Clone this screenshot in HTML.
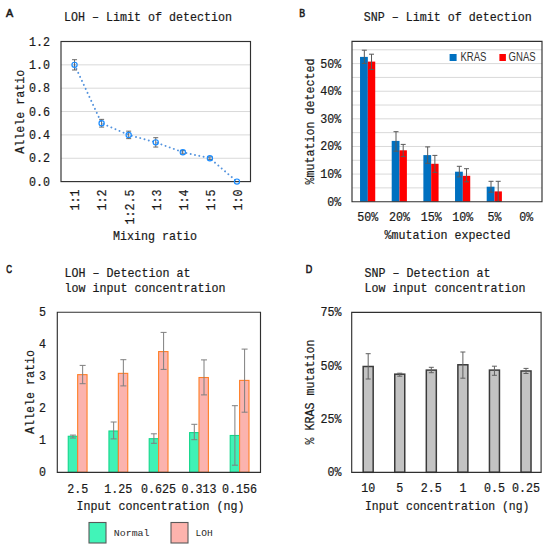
<!DOCTYPE html>
<html><head><meta charset="utf-8"><style>
html,body{margin:0;padding:0;background:#fff;width:550px;height:550px;overflow:hidden}
svg{display:block}
</style></head><body>
<svg width="550" height="550" viewBox="0 0 550 550">
<rect width="550" height="550" fill="#fff"/>
<text x="5.9" y="16.91" font-family="'Liberation Sans', sans-serif" font-size="11.2" fill="#1a1a1a" stroke="#1a1a1a" stroke-width="0.6" textLength="7.199999999999999" lengthAdjust="spacingAndGlyphs">A</text>
<text x="299.2" y="16.81" font-family="'Liberation Sans', sans-serif" font-size="11.2" fill="#1a1a1a" stroke="#1a1a1a" stroke-width="0.6" textLength="5.900000000000034" lengthAdjust="spacingAndGlyphs">B</text>
<text x="6.2" y="273.31" font-family="'Liberation Sans', sans-serif" font-size="11.2" fill="#1a1a1a" stroke="#1a1a1a" stroke-width="0.6" textLength="5.8" lengthAdjust="spacingAndGlyphs">C</text>
<text x="305.7" y="273.21" font-family="'Liberation Sans', sans-serif" font-size="11.2" fill="#1a1a1a" stroke="#1a1a1a" stroke-width="0.6" textLength="6.5" lengthAdjust="spacingAndGlyphs">D</text>
<text x="64" y="20.5199" font-family="'Liberation Mono', monospace" font-size="12.2" fill="#1a1a1a" text-anchor="start" stroke="#1a1a1a" stroke-width="0.2" textLength="168.00" lengthAdjust="spacingAndGlyphs">LOH – Limit of detection</text>
<line x1="61" y1="158.25" x2="250.5" y2="158.25" stroke="#d9d9d9" stroke-width="1"/>
<line x1="61" y1="134.90" x2="250.5" y2="134.90" stroke="#d9d9d9" stroke-width="1"/>
<line x1="61" y1="111.55" x2="250.5" y2="111.55" stroke="#d9d9d9" stroke-width="1"/>
<line x1="61" y1="88.20" x2="250.5" y2="88.20" stroke="#d9d9d9" stroke-width="1"/>
<line x1="61" y1="64.85" x2="250.5" y2="64.85" stroke="#d9d9d9" stroke-width="1"/>
<rect x="61" y="41.5" width="189.5" height="140.1" fill="none" stroke="#303030" stroke-width="1.15"/>
<text x="50" y="185.6199" font-family="'Liberation Mono', monospace" font-size="12.2" fill="#1a1a1a" text-anchor="end" stroke="#1a1a1a" stroke-width="0.2" textLength="21.00" lengthAdjust="spacingAndGlyphs">0.0</text>
<text x="50" y="162.2699" font-family="'Liberation Mono', monospace" font-size="12.2" fill="#1a1a1a" text-anchor="end" stroke="#1a1a1a" stroke-width="0.2" textLength="21.00" lengthAdjust="spacingAndGlyphs">0.2</text>
<text x="50" y="138.91989999999998" font-family="'Liberation Mono', monospace" font-size="12.2" fill="#1a1a1a" text-anchor="end" stroke="#1a1a1a" stroke-width="0.2" textLength="21.00" lengthAdjust="spacingAndGlyphs">0.4</text>
<text x="50" y="115.56989999999999" font-family="'Liberation Mono', monospace" font-size="12.2" fill="#1a1a1a" text-anchor="end" stroke="#1a1a1a" stroke-width="0.2" textLength="21.00" lengthAdjust="spacingAndGlyphs">0.6</text>
<text x="50" y="92.2199" font-family="'Liberation Mono', monospace" font-size="12.2" fill="#1a1a1a" text-anchor="end" stroke="#1a1a1a" stroke-width="0.2" textLength="21.00" lengthAdjust="spacingAndGlyphs">0.8</text>
<text x="50" y="68.8699" font-family="'Liberation Mono', monospace" font-size="12.2" fill="#1a1a1a" text-anchor="end" stroke="#1a1a1a" stroke-width="0.2" textLength="21.00" lengthAdjust="spacingAndGlyphs">1.0</text>
<text x="50" y="45.51989999999997" font-family="'Liberation Mono', monospace" font-size="12.2" fill="#1a1a1a" text-anchor="end" stroke="#1a1a1a" stroke-width="0.2" textLength="21.00" lengthAdjust="spacingAndGlyphs">1.2</text>
<text x="0" y="0" font-family="'Liberation Mono', monospace" font-size="12.2" fill="#1a1a1a" stroke="#1a1a1a" stroke-width="0.2" text-anchor="middle" textLength="84.0" lengthAdjust="spacingAndGlyphs" transform="translate(24.02 111.7) rotate(-90)">Allele ratio</text>
<text x="0" y="0" font-family="'Liberation Mono', monospace" font-size="12.2" fill="#1a1a1a" stroke="#1a1a1a" stroke-width="0.2" text-anchor="end" textLength="21.0" lengthAdjust="spacingAndGlyphs" transform="translate(79.36 189.5) rotate(-90)">1:1</text>
<text x="0" y="0" font-family="'Liberation Mono', monospace" font-size="12.2" fill="#1a1a1a" stroke="#1a1a1a" stroke-width="0.2" text-anchor="end" textLength="21.0" lengthAdjust="spacingAndGlyphs" transform="translate(106.43 189.5) rotate(-90)">1:2</text>
<text x="0" y="0" font-family="'Liberation Mono', monospace" font-size="12.2" fill="#1a1a1a" stroke="#1a1a1a" stroke-width="0.2" text-anchor="end" textLength="35.0" lengthAdjust="spacingAndGlyphs" transform="translate(133.50 189.5) rotate(-90)">1:2.5</text>
<text x="0" y="0" font-family="'Liberation Mono', monospace" font-size="12.2" fill="#1a1a1a" stroke="#1a1a1a" stroke-width="0.2" text-anchor="end" textLength="21.0" lengthAdjust="spacingAndGlyphs" transform="translate(160.57 189.5) rotate(-90)">1:3</text>
<text x="0" y="0" font-family="'Liberation Mono', monospace" font-size="12.2" fill="#1a1a1a" stroke="#1a1a1a" stroke-width="0.2" text-anchor="end" textLength="21.0" lengthAdjust="spacingAndGlyphs" transform="translate(187.64 189.5) rotate(-90)">1:4</text>
<text x="0" y="0" font-family="'Liberation Mono', monospace" font-size="12.2" fill="#1a1a1a" stroke="#1a1a1a" stroke-width="0.2" text-anchor="end" textLength="21.0" lengthAdjust="spacingAndGlyphs" transform="translate(214.71 189.5) rotate(-90)">1:5</text>
<text x="0" y="0" font-family="'Liberation Mono', monospace" font-size="12.2" fill="#1a1a1a" stroke="#1a1a1a" stroke-width="0.2" text-anchor="end" textLength="21.0" lengthAdjust="spacingAndGlyphs" transform="translate(241.78 189.5) rotate(-90)">1:0</text>
<text x="113" y="239.6199" font-family="'Liberation Mono', monospace" font-size="12.2" fill="#1a1a1a" text-anchor="start" stroke="#1a1a1a" stroke-width="0.2" textLength="84.00" lengthAdjust="spacingAndGlyphs">Mixing ratio</text>
<polyline points="74.54,64.85 101.61,123.22 128.68,134.90 155.75,142.37 182.82,152.18 209.89,158.25 236.96,181.60" fill="none" stroke="#5594de" stroke-width="2.0" stroke-dasharray="0.01 4.4" stroke-linecap="round"/>
<path d="M74.54 59.70V70.00M72.04 59.70H77.04M72.04 70.00H77.04" stroke="#595959" stroke-width="0.9" fill="none"/>
<circle cx="74.54" cy="64.85" r="2.6" fill="none" stroke="#1a8cff" stroke-width="1.2"/>
<path d="M101.61 119.36V127.09M99.11 119.36H104.11M99.11 127.09H104.11" stroke="#595959" stroke-width="0.9" fill="none"/>
<circle cx="101.61" cy="123.22" r="2.6" fill="none" stroke="#1a8cff" stroke-width="1.2"/>
<path d="M128.68 131.16V138.64M126.18 131.16H131.18M126.18 138.64H131.18" stroke="#595959" stroke-width="0.9" fill="none"/>
<circle cx="128.68" cy="134.90" r="2.6" fill="none" stroke="#1a8cff" stroke-width="1.2"/>
<path d="M155.75 137.69V147.05M153.25 137.69H158.25M153.25 147.05H158.25" stroke="#595959" stroke-width="0.9" fill="none"/>
<circle cx="155.75" cy="142.37" r="2.6" fill="none" stroke="#1a8cff" stroke-width="1.2"/>
<path d="M182.82 150.42V153.93M180.32 150.42H185.32M180.32 153.93H185.32" stroke="#595959" stroke-width="0.9" fill="none"/>
<circle cx="182.82" cy="152.18" r="2.6" fill="none" stroke="#1a8cff" stroke-width="1.2"/>
<path d="M209.89 156.85V159.65M207.39 156.85H212.39M207.39 159.65H212.39" stroke="#595959" stroke-width="0.9" fill="none"/>
<circle cx="209.89" cy="158.25" r="2.6" fill="none" stroke="#1a8cff" stroke-width="1.2"/>
<circle cx="236.96" cy="181.60" r="2.6" fill="none" stroke="#1a8cff" stroke-width="1.2"/>
<text x="363.7" y="20.5199" font-family="'Liberation Mono', monospace" font-size="12.2" fill="#1a1a1a" text-anchor="start" stroke="#1a1a1a" stroke-width="0.2" textLength="168.00" lengthAdjust="spacingAndGlyphs">SNP – Limit of detection</text>
<line x1="352" y1="187.89" x2="542" y2="187.89" stroke="#d9d9d9" stroke-width="1"/>
<line x1="352" y1="174.08" x2="542" y2="174.08" stroke="#d9d9d9" stroke-width="1"/>
<line x1="352" y1="160.27" x2="542" y2="160.27" stroke="#d9d9d9" stroke-width="1"/>
<line x1="352" y1="146.46" x2="542" y2="146.46" stroke="#d9d9d9" stroke-width="1"/>
<line x1="352" y1="132.65" x2="542" y2="132.65" stroke="#d9d9d9" stroke-width="1"/>
<line x1="352" y1="118.84" x2="542" y2="118.84" stroke="#d9d9d9" stroke-width="1"/>
<line x1="352" y1="105.03" x2="542" y2="105.03" stroke="#d9d9d9" stroke-width="1"/>
<line x1="352" y1="91.22" x2="542" y2="91.22" stroke="#d9d9d9" stroke-width="1"/>
<line x1="352" y1="77.41" x2="542" y2="77.41" stroke="#d9d9d9" stroke-width="1"/>
<line x1="352" y1="63.60" x2="542" y2="63.60" stroke="#d9d9d9" stroke-width="1"/>
<line x1="352" y1="49.79" x2="542" y2="49.79" stroke="#d9d9d9" stroke-width="1"/>
<text x="341.3" y="205.7199" font-family="'Liberation Mono', monospace" font-size="12.2" fill="#1a1a1a" text-anchor="end" stroke="#1a1a1a" stroke-width="0.2" textLength="14.00" lengthAdjust="spacingAndGlyphs">0%</text>
<text x="341.3" y="178.0999" font-family="'Liberation Mono', monospace" font-size="12.2" fill="#1a1a1a" text-anchor="end" stroke="#1a1a1a" stroke-width="0.2" textLength="21.00" lengthAdjust="spacingAndGlyphs">10%</text>
<text x="341.3" y="150.4799" font-family="'Liberation Mono', monospace" font-size="12.2" fill="#1a1a1a" text-anchor="end" stroke="#1a1a1a" stroke-width="0.2" textLength="21.00" lengthAdjust="spacingAndGlyphs">20%</text>
<text x="341.3" y="122.85989999999998" font-family="'Liberation Mono', monospace" font-size="12.2" fill="#1a1a1a" text-anchor="end" stroke="#1a1a1a" stroke-width="0.2" textLength="21.00" lengthAdjust="spacingAndGlyphs">30%</text>
<text x="341.3" y="95.23989999999998" font-family="'Liberation Mono', monospace" font-size="12.2" fill="#1a1a1a" text-anchor="end" stroke="#1a1a1a" stroke-width="0.2" textLength="21.00" lengthAdjust="spacingAndGlyphs">40%</text>
<text x="341.3" y="67.6199" font-family="'Liberation Mono', monospace" font-size="12.2" fill="#1a1a1a" text-anchor="end" stroke="#1a1a1a" stroke-width="0.2" textLength="21.00" lengthAdjust="spacingAndGlyphs">50%</text>
<text x="0" y="0" font-family="'Liberation Mono', monospace" font-size="12.2" fill="#1a1a1a" stroke="#1a1a1a" stroke-width="0.2" text-anchor="middle" textLength="126.0" lengthAdjust="spacingAndGlyphs" transform="translate(313.62 121.5) rotate(-90)">%mutation detected</text>
<text x="367.8333333333333" y="221.31990000000002" font-family="'Liberation Mono', monospace" font-size="12.2" fill="#1a1a1a" text-anchor="middle" stroke="#1a1a1a" stroke-width="0.2" textLength="21.00" lengthAdjust="spacingAndGlyphs">50%</text>
<rect x="360.03" y="56.90" width="7.8" height="144.80" fill="#0070c0"/>
<rect x="367.83" y="61.60" width="7.4" height="140.10" fill="#ff0000"/>
<text x="399.5" y="221.31990000000002" font-family="'Liberation Mono', monospace" font-size="12.2" fill="#1a1a1a" text-anchor="middle" stroke="#1a1a1a" stroke-width="0.2" textLength="21.00" lengthAdjust="spacingAndGlyphs">20%</text>
<rect x="391.70" y="140.90" width="7.8" height="60.80" fill="#0070c0"/>
<rect x="399.50" y="150.30" width="7.4" height="51.40" fill="#ff0000"/>
<text x="431.1666666666667" y="221.31990000000002" font-family="'Liberation Mono', monospace" font-size="12.2" fill="#1a1a1a" text-anchor="middle" stroke="#1a1a1a" stroke-width="0.2" textLength="21.00" lengthAdjust="spacingAndGlyphs">15%</text>
<rect x="423.37" y="155.10" width="7.8" height="46.60" fill="#0070c0"/>
<rect x="431.17" y="163.80" width="7.4" height="37.90" fill="#ff0000"/>
<text x="462.83333333333337" y="221.31990000000002" font-family="'Liberation Mono', monospace" font-size="12.2" fill="#1a1a1a" text-anchor="middle" stroke="#1a1a1a" stroke-width="0.2" textLength="21.00" lengthAdjust="spacingAndGlyphs">10%</text>
<rect x="455.03" y="171.70" width="7.8" height="30.00" fill="#0070c0"/>
<rect x="462.83" y="175.80" width="7.4" height="25.90" fill="#ff0000"/>
<text x="494.5" y="221.31990000000002" font-family="'Liberation Mono', monospace" font-size="12.2" fill="#1a1a1a" text-anchor="middle" stroke="#1a1a1a" stroke-width="0.2" textLength="14.00" lengthAdjust="spacingAndGlyphs">5%</text>
<rect x="486.70" y="186.70" width="7.8" height="15.00" fill="#0070c0"/>
<rect x="494.50" y="191.40" width="7.4" height="10.30" fill="#ff0000"/>
<text x="526.1666666666667" y="221.31990000000002" font-family="'Liberation Mono', monospace" font-size="12.2" fill="#1a1a1a" text-anchor="middle" stroke="#1a1a1a" stroke-width="0.2" textLength="14.00" lengthAdjust="spacingAndGlyphs">0%</text>
<path d="M364.33 50.20V63.40M361.83 50.20H366.83M361.83 63.40H366.83" stroke="#595959" stroke-width="1" fill="none"/>
<path d="M371.53 54.20V69.50M369.03 54.20H374.03M369.03 69.50H374.03" stroke="#595959" stroke-width="1" fill="none"/>
<path d="M396.00 131.70V151.20M393.50 131.70H398.50M393.50 151.20H398.50" stroke="#595959" stroke-width="1" fill="none"/>
<path d="M403.20 144.40V156.60M400.70 144.40H405.70M400.70 156.60H405.70" stroke="#595959" stroke-width="1" fill="none"/>
<path d="M427.67 146.90V163.30M425.17 146.90H430.17M425.17 163.30H430.17" stroke="#595959" stroke-width="1" fill="none"/>
<path d="M434.87 155.40V172.30M432.37 155.40H437.37M432.37 172.30H437.37" stroke="#595959" stroke-width="1" fill="none"/>
<path d="M459.33 166.30V176.90M456.83 166.30H461.83M456.83 176.90H461.83" stroke="#595959" stroke-width="1" fill="none"/>
<path d="M466.53 168.70V181.80M464.03 168.70H469.03M464.03 181.80H469.03" stroke="#595959" stroke-width="1" fill="none"/>
<path d="M491.00 181.30V192.20M488.50 181.30H493.50M488.50 192.20H493.50" stroke="#595959" stroke-width="1" fill="none"/>
<path d="M498.20 181.30V201.40M495.70 181.30H500.70M495.70 201.40H500.70" stroke="#595959" stroke-width="1" fill="none"/>
<path d="M352 41.3H542V201.7H352Z" fill="none" stroke="#303030" stroke-width="1.15"/>
<text x="384.5" y="239.4199" font-family="'Liberation Mono', monospace" font-size="12.2" fill="#1a1a1a" text-anchor="start" stroke="#1a1a1a" stroke-width="0.2" textLength="126.00" lengthAdjust="spacingAndGlyphs">%mutation expected</text>
<rect x="449.6" y="54" width="7" height="7" fill="#0070c0"/>
<rect x="499.4" y="54" width="6.5" height="7" fill="#ff0000"/>
<text x="460.5" y="61.4" font-family="'Liberation Sans', sans-serif" font-size="12.2" fill="#333" text-anchor="start" textLength="26" lengthAdjust="spacingAndGlyphs">KRAS</text>
<text x="508.6" y="61.4" font-family="'Liberation Sans', sans-serif" font-size="12.2" fill="#333" text-anchor="start" textLength="27" lengthAdjust="spacingAndGlyphs">GNAS</text>
<text x="64.6" y="276.7199" font-family="'Liberation Mono', monospace" font-size="12.2" fill="#1a1a1a" text-anchor="start" stroke="#1a1a1a" stroke-width="0.2" textLength="126.00" lengthAdjust="spacingAndGlyphs">LOH – Detection at</text>
<text x="64.6" y="291.7199" font-family="'Liberation Mono', monospace" font-size="12.2" fill="#1a1a1a" text-anchor="start" stroke="#1a1a1a" stroke-width="0.2" textLength="161.00" lengthAdjust="spacingAndGlyphs">low input concentration</text>
<text x="46" y="476.3199" font-family="'Liberation Mono', monospace" font-size="12.2" fill="#1a1a1a" text-anchor="end" stroke="#1a1a1a" stroke-width="0.2" textLength="7.00" lengthAdjust="spacingAndGlyphs">0</text>
<text x="46" y="444.29990000000004" font-family="'Liberation Mono', monospace" font-size="12.2" fill="#1a1a1a" text-anchor="end" stroke="#1a1a1a" stroke-width="0.2" textLength="7.00" lengthAdjust="spacingAndGlyphs">1</text>
<text x="46" y="412.2799" font-family="'Liberation Mono', monospace" font-size="12.2" fill="#1a1a1a" text-anchor="end" stroke="#1a1a1a" stroke-width="0.2" textLength="7.00" lengthAdjust="spacingAndGlyphs">2</text>
<text x="46" y="380.2599" font-family="'Liberation Mono', monospace" font-size="12.2" fill="#1a1a1a" text-anchor="end" stroke="#1a1a1a" stroke-width="0.2" textLength="7.00" lengthAdjust="spacingAndGlyphs">3</text>
<text x="46" y="348.23990000000003" font-family="'Liberation Mono', monospace" font-size="12.2" fill="#1a1a1a" text-anchor="end" stroke="#1a1a1a" stroke-width="0.2" textLength="7.00" lengthAdjust="spacingAndGlyphs">4</text>
<text x="46" y="316.2199" font-family="'Liberation Mono', monospace" font-size="12.2" fill="#1a1a1a" text-anchor="end" stroke="#1a1a1a" stroke-width="0.2" textLength="7.00" lengthAdjust="spacingAndGlyphs">5</text>
<text x="0" y="0" font-family="'Liberation Mono', monospace" font-size="12.2" fill="#1a1a1a" stroke="#1a1a1a" stroke-width="0.2" text-anchor="middle" textLength="84.0" lengthAdjust="spacingAndGlyphs" transform="translate(33.52 392) rotate(-90)">Allele ratio</text>
<text x="77.65" y="492.9199" font-family="'Liberation Mono', monospace" font-size="12.2" fill="#1a1a1a" text-anchor="middle" stroke="#1a1a1a" stroke-width="0.2" textLength="21.00" lengthAdjust="spacingAndGlyphs">2.5</text>
<rect x="68.25" y="436.28" width="9.4" height="36.02" fill="#40f2b6" stroke="#13d68a" stroke-width="1.1"/>
<rect x="77.65" y="374.64" width="9.4" height="97.66" fill="#fbb3ae" stroke="#ff7f27" stroke-width="1.1"/>
<text x="118.35" y="492.9199" font-family="'Liberation Mono', monospace" font-size="12.2" fill="#1a1a1a" text-anchor="middle" stroke="#1a1a1a" stroke-width="0.2" textLength="28.00" lengthAdjust="spacingAndGlyphs">1.25</text>
<rect x="108.95" y="430.99" width="9.4" height="41.31" fill="#40f2b6" stroke="#13d68a" stroke-width="1.1"/>
<rect x="118.35" y="373.36" width="9.4" height="98.94" fill="#fbb3ae" stroke="#ff7f27" stroke-width="1.1"/>
<text x="158.6" y="492.9199" font-family="'Liberation Mono', monospace" font-size="12.2" fill="#1a1a1a" text-anchor="middle" stroke="#1a1a1a" stroke-width="0.2" textLength="35.00" lengthAdjust="spacingAndGlyphs">0.625</text>
<rect x="149.20" y="438.68" width="9.4" height="33.62" fill="#40f2b6" stroke="#13d68a" stroke-width="1.1"/>
<rect x="158.60" y="351.58" width="9.4" height="120.72" fill="#fbb3ae" stroke="#ff7f27" stroke-width="1.1"/>
<text x="199.0" y="492.9199" font-family="'Liberation Mono', monospace" font-size="12.2" fill="#1a1a1a" text-anchor="middle" stroke="#1a1a1a" stroke-width="0.2" textLength="35.00" lengthAdjust="spacingAndGlyphs">0.313</text>
<rect x="189.60" y="432.60" width="9.4" height="39.70" fill="#40f2b6" stroke="#13d68a" stroke-width="1.1"/>
<rect x="199.00" y="377.52" width="9.4" height="94.78" fill="#fbb3ae" stroke="#ff7f27" stroke-width="1.1"/>
<text x="239.6" y="492.9199" font-family="'Liberation Mono', monospace" font-size="12.2" fill="#1a1a1a" text-anchor="middle" stroke="#1a1a1a" stroke-width="0.2" textLength="35.00" lengthAdjust="spacingAndGlyphs">0.156</text>
<rect x="230.20" y="435.48" width="9.4" height="36.82" fill="#40f2b6" stroke="#13d68a" stroke-width="1.1"/>
<rect x="239.60" y="380.40" width="9.4" height="91.90" fill="#fbb3ae" stroke="#ff7f27" stroke-width="1.1"/>
<path d="M72.95 435.10V438.00M69.95 435.10H75.95M69.95 438.00H75.95" stroke="#7f7f7f" stroke-width="1" fill="none"/>
<path d="M82.65 365.40V383.70M79.65 365.40H85.65M79.65 383.70H85.65" stroke="#7f7f7f" stroke-width="1" fill="none"/>
<path d="M113.65 422.00V438.90M110.65 422.00H116.65M110.65 438.90H116.65" stroke="#7f7f7f" stroke-width="1" fill="none"/>
<path d="M123.35 359.70V385.90M120.35 359.70H126.35M120.35 385.90H126.35" stroke="#7f7f7f" stroke-width="1" fill="none"/>
<path d="M153.90 433.80V443.30M150.90 433.80H156.90M150.90 443.30H156.90" stroke="#7f7f7f" stroke-width="1" fill="none"/>
<path d="M163.60 332.40V369.40M160.60 332.40H166.60M160.60 369.40H166.60" stroke="#7f7f7f" stroke-width="1" fill="none"/>
<path d="M194.30 424.30V439.70M191.30 424.30H197.30M191.30 439.70H197.30" stroke="#7f7f7f" stroke-width="1" fill="none"/>
<path d="M204.00 359.90V394.90M201.00 359.90H207.00M201.00 394.90H207.00" stroke="#7f7f7f" stroke-width="1" fill="none"/>
<path d="M234.90 405.70V465.20M231.90 405.70H237.90M231.90 465.20H237.90" stroke="#7f7f7f" stroke-width="1" fill="none"/>
<path d="M244.60 349.10V412.20M241.60 349.10H247.60M241.60 412.20H247.60" stroke="#7f7f7f" stroke-width="1" fill="none"/>
<path d="M57.3 312.2H260.5V472.3H57.3Z" fill="none" stroke="#303030" stroke-width="1.15"/>
<text x="76.5" y="510.4199" font-family="'Liberation Mono', monospace" font-size="12.2" fill="#1a1a1a" text-anchor="start" stroke="#1a1a1a" stroke-width="0.2" textLength="168.00" lengthAdjust="spacingAndGlyphs">Input concentration (ng)</text>
<rect x="89" y="522.5" width="17" height="20.5" fill="#41f4b8" stroke="#595959" stroke-width="1.1"/>
<text x="113.8" y="535.7291" font-family="'Liberation Mono', monospace" font-size="9.8" fill="#2a2a2a" text-anchor="start" textLength="35.70" lengthAdjust="spacingAndGlyphs">Normal</text>
<rect x="171" y="522.5" width="17" height="20.5" fill="#fdb3ad" stroke="#595959" stroke-width="1.1"/>
<text x="195.5" y="535.7291" font-family="'Liberation Mono', monospace" font-size="9.8" fill="#2a2a2a" text-anchor="start" textLength="17.10" lengthAdjust="spacingAndGlyphs">LOH</text>
<text x="364.5" y="277.3199" font-family="'Liberation Mono', monospace" font-size="12.2" fill="#1a1a1a" text-anchor="start" stroke="#1a1a1a" stroke-width="0.2" textLength="126.00" lengthAdjust="spacingAndGlyphs">SNP – Detection at</text>
<text x="364.5" y="292.3199" font-family="'Liberation Mono', monospace" font-size="12.2" fill="#1a1a1a" text-anchor="start" stroke="#1a1a1a" stroke-width="0.2" textLength="161.00" lengthAdjust="spacingAndGlyphs">Low input concentration</text>
<text x="341.4" y="476.3199" font-family="'Liberation Mono', monospace" font-size="12.2" fill="#1a1a1a" text-anchor="end" stroke="#1a1a1a" stroke-width="0.2" textLength="14.00" lengthAdjust="spacingAndGlyphs">0%</text>
<text x="341.4" y="422.9865666666667" font-family="'Liberation Mono', monospace" font-size="12.2" fill="#1a1a1a" text-anchor="end" stroke="#1a1a1a" stroke-width="0.2" textLength="21.00" lengthAdjust="spacingAndGlyphs">25%</text>
<text x="341.4" y="369.65323333333333" font-family="'Liberation Mono', monospace" font-size="12.2" fill="#1a1a1a" text-anchor="end" stroke="#1a1a1a" stroke-width="0.2" textLength="21.00" lengthAdjust="spacingAndGlyphs">50%</text>
<text x="341.4" y="316.3199" font-family="'Liberation Mono', monospace" font-size="12.2" fill="#1a1a1a" text-anchor="end" stroke="#1a1a1a" stroke-width="0.2" textLength="21.00" lengthAdjust="spacingAndGlyphs">75%</text>
<text x="0" y="0" font-family="'Liberation Mono', monospace" font-size="12.2" fill="#1a1a1a" stroke="#1a1a1a" stroke-width="0.2" text-anchor="middle" textLength="105.0" lengthAdjust="spacingAndGlyphs" transform="translate(314.02 392) rotate(-90)">% KRAS mutation</text>
<text x="368.18333333333334" y="492.3199" font-family="'Liberation Mono', monospace" font-size="12.2" fill="#1a1a1a" text-anchor="middle" stroke="#1a1a1a" stroke-width="0.2" textLength="14.00" lengthAdjust="spacingAndGlyphs">10</text>
<rect x="363.18" y="366.49" width="10.0" height="105.81" fill="#c3c3c3" stroke="#3a3a3a" stroke-width="1.5"/>
<path d="M368.18 353.70V379.00M365.68 353.70H370.68M365.68 379.00H370.68" stroke="#606060" stroke-width="1" fill="none"/>
<text x="399.75" y="492.3199" font-family="'Liberation Mono', monospace" font-size="12.2" fill="#1a1a1a" text-anchor="middle" stroke="#1a1a1a" stroke-width="0.2" textLength="7.00" lengthAdjust="spacingAndGlyphs">5</text>
<rect x="394.75" y="374.17" width="10.0" height="98.13" fill="#c3c3c3" stroke="#3a3a3a" stroke-width="1.5"/>
<path d="M399.75 373.20V376.20M397.25 373.20H402.25M397.25 376.20H402.25" stroke="#606060" stroke-width="1" fill="none"/>
<text x="431.31666666666666" y="492.3199" font-family="'Liberation Mono', monospace" font-size="12.2" fill="#1a1a1a" text-anchor="middle" stroke="#1a1a1a" stroke-width="0.2" textLength="21.00" lengthAdjust="spacingAndGlyphs">2.5</text>
<rect x="426.32" y="370.11" width="10.0" height="102.19" fill="#c3c3c3" stroke="#3a3a3a" stroke-width="1.5"/>
<path d="M431.32 367.30V372.70M428.82 367.30H433.82M428.82 372.70H433.82" stroke="#606060" stroke-width="1" fill="none"/>
<text x="462.8833333333333" y="492.3199" font-family="'Liberation Mono', monospace" font-size="12.2" fill="#1a1a1a" text-anchor="middle" stroke="#1a1a1a" stroke-width="0.2" textLength="7.00" lengthAdjust="spacingAndGlyphs">1</text>
<rect x="457.88" y="364.78" width="10.0" height="107.52" fill="#c3c3c3" stroke="#3a3a3a" stroke-width="1.5"/>
<path d="M462.88 352.00V378.20M460.38 352.00H465.38M460.38 378.20H465.38" stroke="#606060" stroke-width="1" fill="none"/>
<text x="494.45" y="492.3199" font-family="'Liberation Mono', monospace" font-size="12.2" fill="#1a1a1a" text-anchor="middle" stroke="#1a1a1a" stroke-width="0.2" textLength="21.00" lengthAdjust="spacingAndGlyphs">0.5</text>
<rect x="489.45" y="370.11" width="10.0" height="102.19" fill="#c3c3c3" stroke="#3a3a3a" stroke-width="1.5"/>
<path d="M494.45 366.20V375.30M491.95 366.20H496.95M491.95 375.30H496.95" stroke="#606060" stroke-width="1" fill="none"/>
<text x="526.0166666666668" y="492.3199" font-family="'Liberation Mono', monospace" font-size="12.2" fill="#1a1a1a" text-anchor="middle" stroke="#1a1a1a" stroke-width="0.2" textLength="28.00" lengthAdjust="spacingAndGlyphs">0.25</text>
<rect x="521.02" y="370.97" width="10.0" height="101.33" fill="#c3c3c3" stroke="#3a3a3a" stroke-width="1.5"/>
<path d="M526.02 368.40V373.50M523.52 368.40H528.52M523.52 373.50H528.52" stroke="#606060" stroke-width="1" fill="none"/>
<path d="M351.7 312.3H541.1V472.3H351.7Z" fill="none" stroke="#303030" stroke-width="1.15"/>
<text x="365.0" y="509.8199" font-family="'Liberation Mono', monospace" font-size="12.2" fill="#1a1a1a" text-anchor="start" stroke="#1a1a1a" stroke-width="0.2" textLength="164.40" lengthAdjust="spacingAndGlyphs">Input concentration (ng)</text>
</svg>
</body></html>
